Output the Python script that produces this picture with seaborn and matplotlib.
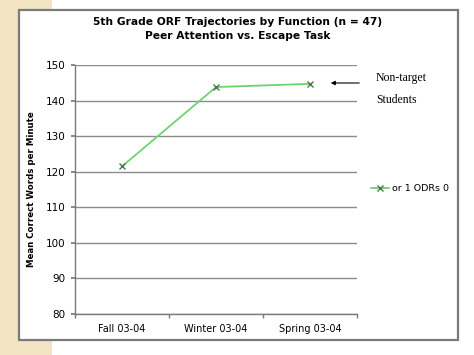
import matplotlib
matplotlib.use('Agg')
import matplotlib.pyplot as plt
import pandas as pd
import seaborn as sns
from matplotlib.patches import Rectangle, FancyArrowPatch

terms = ['Fall 03-04', 'Winter 03-04', 'Spring 03-04']
mean_cwpm = [121.5, 143.8, 144.7]
series_label = 'or 1 ODRs 0'
y_ticks = [80, 90, 100, 110, 120, 130, 140, 150]

df = pd.DataFrame({'term': terms, 'cwpm': mean_cwpm})

sns.set_theme(style='white')
plt.rcParams['font.family'] = ['DejaVu Sans']
plt.rcParams['text.color'] = 'black'
plt.rcParams['axes.labelcolor'] = 'black'

fig = plt.figure(figsize=(4.74, 3.55), dpi=100)
fig.patch.set_facecolor('white')

# slide background: beige strip on the left, white chart box with grey frame
fig.patches.append(Rectangle((0, 0), 52 / 474, 1, transform=fig.transFigure,
                             facecolor='#F1E4C3', edgecolor='none', zorder=0))
fig.patches.append(Rectangle((19 / 474, 15 / 355), 439 / 474, 330 / 355,
                             transform=fig.transFigure, facecolor='white',
                             edgecolor='#7a7a7a', linewidth=1.6, zorder=0.5))

ax = fig.add_axes([75 / 474, 41 / 355, 282 / 474, 249 / 355])
ax.set_facecolor('none')
ax.set_zorder(2)

sns.lineplot(data=df, x='term', y='cwpm', ax=ax, color='#6fd46f', linewidth=1.3,
             marker='x', markersize=5, markeredgecolor='#4a7a4a',
             markeredgewidth=1.0, label=series_label, sort=False)

ax.set_xlim(-0.5, 2.5)
ax.set_ylim(80, 150)
ax.set_yticks(y_ticks)
ax.yaxis.grid(True, color='#8c8c8c', linewidth=1.0)
ax.xaxis.grid(False)
for side in ['top', 'right']:
    ax.spines[side].set_visible(False)
for side in ['left', 'bottom']:
    ax.spines[side].set_color('#7a7a7a')
    ax.spines[side].set_linewidth(1.0)

ax.set_xticks([0, 1, 2])
ax.set_xticks([-0.5, 0.5, 1.5, 2.5], minor=True)
ax.tick_params(axis='x', which='major', length=0, labelsize=7, pad=7, labelcolor='black')
ax.tick_params(axis='x', which='minor', length=3, color='#7a7a7a', direction='out', bottom=True)
ax.tick_params(axis='y', length=3, color='#7a7a7a', direction='out', labelsize=7.5,
               left=True, pad=4, labelcolor='black')

ax.set_xlabel('')
ax.set_ylabel('Mean Correct Words per Minute', fontsize=6.2, fontweight='bold', labelpad=7)

fig.text(238 / 474, 1 - 22 / 355, '5th Grade ORF Trajectories by Function (n = 47)',
         ha='center', va='center', fontsize=7.7, fontweight='bold')
fig.text(238 / 474, 1 - 36 / 355, 'Peer Attention vs. Escape Task',
         ha='center', va='center', fontsize=7.7, fontweight='bold')

ax.legend(loc='center left', bbox_to_anchor=(362 / 474, 1 - 189 / 355),
          bbox_transform=fig.transFigure, frameon=False, fontsize=6.8,
          handlelength=2.0, handletextpad=0.3)

# annotation for the non-target group
fig.text(376 / 474, 1 - 78 / 355, 'Non-target', family='Liberation Serif',
         fontsize=8.5, va='center', ha='left')
fig.text(376 / 474, 1 - 100 / 355, 'Students', family='Liberation Serif',
         fontsize=8.5, va='center', ha='left')
arrow = FancyArrowPatch((362 / 474, 1 - 83 / 355), (328 / 474, 1 - 83 / 355),
                        transform=fig.transFigure, arrowstyle='-|>', mutation_scale=6,
                        color='black', linewidth=0.8, zorder=5)
fig.add_artist(arrow)

fig.savefig('out.png', dpi=100)
